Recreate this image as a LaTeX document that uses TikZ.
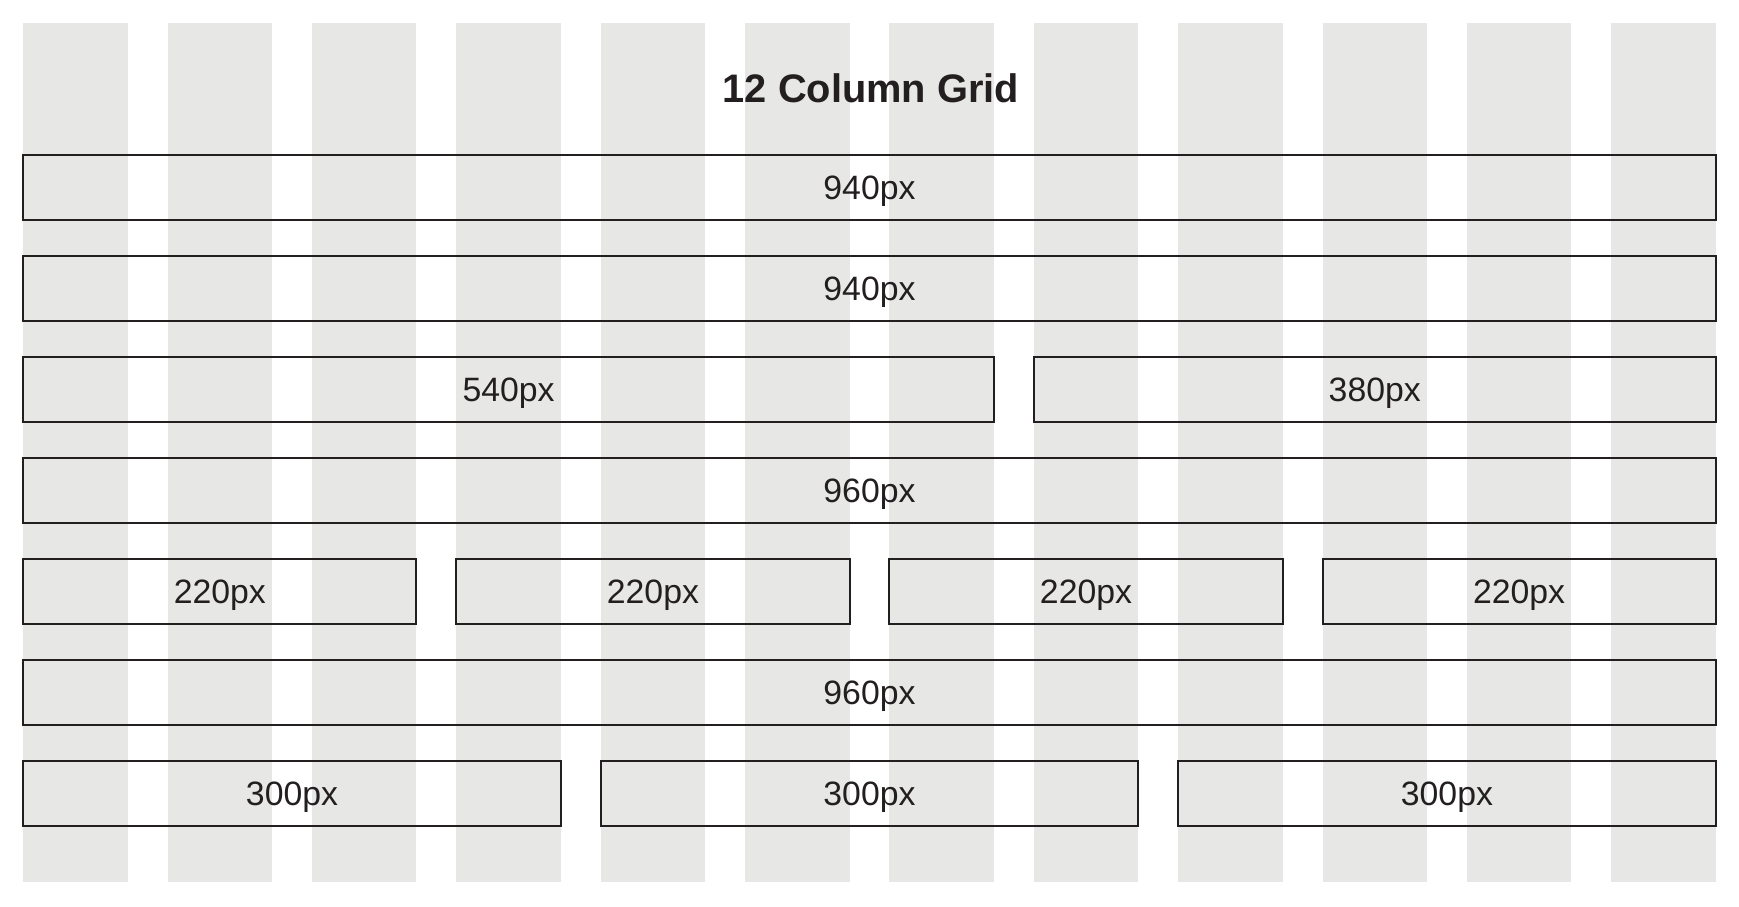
\documentclass[tikz,border=0pt]{standalone}
\usepackage{fontspec}
\setmainfont{Liberation Sans}
\usepackage{tikz}
\usetikzlibrary{positioning}
\definecolor{gridgray}{RGB}{231, 231, 229}
\definecolor{gridink}{RGB}{35, 31, 32}
\tikzset{
    gridcol/.style={fill=gridgray},
    gridbox/.style={rectangle, draw=gridink, line width=1pt, outer sep=0pt, inner sep=0pt, minimum height=32.5pt, text depth=0pt, text=gridink, font=\fontsize{16.9}{18}\selectfont},
    span12/.style={gridbox, minimum width=846.18pt},
    span7/.style={gridbox, minimum width=485.28pt},
    span5/.style={gridbox, minimum width=340.92pt},
    span4/.style={gridbox, minimum width=268.74pt},
    span3/.style={gridbox, minimum width=196.56pt},
    gridtitle/.style={text=gridink, inner sep=0pt, font=\fontsize{19.9}{22}\selectfont\bfseries}
}
\begin{document}
\begin{tikzpicture}[x=0.5pt, y=-0.5pt, node distance=19.98pt]
    \useasboundingbox (0,0) rectangle (1739,906);
    \foreach \i in {0,...,11}
        \fill[gridcol] (23.3+144.36*\i,23) rectangle ++(104.4,859);
    \node[gridtitle] (title) at (871,88) {12 Column Grid};
    \node[span12, anchor=west] (row1) at (23.3,187.5) {940px};
    \node[span12, anchor=west] (row2) at (23.3,288.5) {940px};
    \node[span7, anchor=west] (row3a) at (23.3,389.5) {540px};
    \node[span5, right=of row3a] (row3b) {380px};
    \node[span12, anchor=west] (row4) at (23.3,490.5) {960px};
    \node[span3, anchor=west] (row5a) at (23.3,591.5) {220px};
    \node[span3, right=of row5a] (row5b) {220px};
    \node[span3, right=of row5b] (row5c) {220px};
    \node[span3, right=of row5c] (row5d) {220px};
    \node[span12, anchor=west] (row6) at (23.3,692.5) {960px};
    \node[span4, anchor=west] (row7a) at (23.3,793.5) {300px};
    \node[span4, right=of row7a] (row7b) {300px};
    \node[span4, right=of row7b] (row7c) {300px};
\end{tikzpicture}
\end{document}
